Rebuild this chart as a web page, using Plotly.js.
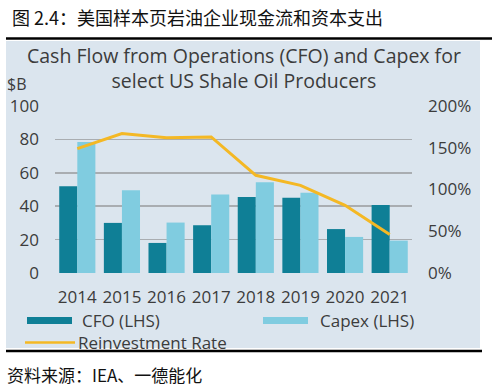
<!DOCTYPE html>
<html>
<head>
<meta charset="utf-8">
<script src="https://cdn.plot.ly/plotly-3.0.1.min.js"></script>
<style>html,body{margin:0;padding:0;background:#fff;}#chart{width:494px;height:386px;}</style>
</head>
<body>
<div id="chart"></div>
<script>
const years = ['2014','2015','2016','2017','2018','2019','2020','2021'];
const cfo = [52, 30, 18, 28.6, 45.5, 45, 26.3, 40.7];
const capex = [78.5, 49.5, 30.2, 47, 54.3, 48, 21.6, 19.4];
const reinvestmentRate = [149, 167, 162, 163, 117, 105, 81, 46];
const seriesNames = ['CFO (LHS)', 'Capex (LHS)', 'Reinvestment Rate'];
const headerText = '图 2.4：美国样本页岩油企业现金流和资本支出';
const chartTitle = 'Cash Flow from Operations (CFO) and Capex for<br>select US Shale Oil Producers';
const unitLabel = '$B';
const sourceText = '资料来源：IEA、一德能化';

const W = 494, H = 386;
const L = 55, R = 412, T = 106, B = 273;
const px = v => (v - L) / (R - L);
const py = v => (B - v) / (B - T);

const cCFO = '#0f7f96', cCapex = '#80cce0', cLine = '#f4b824';
const bg = '#dbe5ee';
const txt = '#3c3c3c';
const font = 'Open Sans, sans-serif';
const cjk = 'Noto Sans CJK SC, sans-serif';

const traces = [
  {type:'bar', x: years, y: cfo, name: seriesNames[0], marker:{color:cCFO}, showlegend:false},
  {type:'bar', x: years, y: capex, name: seriesNames[1], marker:{color:cCapex}, showlegend:false},
  {type:'scatter', mode:'lines', x: years, y: reinvestmentRate, name: seriesNames[2], yaxis:'y2',
   line:{color:cLine, width:3}, showlegend:false}
];

const shapes = [
  {type:'rect', xref:'paper', yref:'paper', x0:px(6), x1:px(480), y0:py(348), y1:py(41), fillcolor:bg, line:{width:0}, layer:'below'},
  {type:'line', xref:'paper', yref:'paper', x0:px(6), x1:px(492), y0:py(38.5), y1:py(38.5), line:{color:'#000', width:2.5}},
  {type:'line', xref:'paper', yref:'paper', x0:px(6), x1:px(482), y0:py(351), y1:py(351), line:{color:'#000', width:2.5}},
  // legend swatches
  {type:'rect', xref:'paper', yref:'paper', x0:px(27), x1:px(72), y0:py(324), y1:py(317), fillcolor:cCFO, line:{width:0}},
  {type:'rect', xref:'paper', yref:'paper', x0:px(263), x1:px(308), y0:py(324), y1:py(317), fillcolor:cCapex, line:{width:0}},
  {type:'line', xref:'paper', yref:'paper', x0:px(25), x1:px(75), y0:py(342.5), y1:py(342.5), line:{color:cLine, width:2.5}}
];

const ann = (text, x, y, size, xanchor, fam, color) => ({
  text, xref:'paper', yref:'paper', x:px(x), y:py(y), xanchor: xanchor||'left', yanchor:'middle',
  showarrow:false, borderpad:0, font:{family: fam||font, size, color: color||txt}
});

const annotations = [
  ann(headerText, 11, 17, 18, 'left', cjk, '#111'),
  ann(sourceText, 6, 374, 17, 'left', cjk, '#111'),
  Object.assign(ann(chartTitle, 244, 67.5, 19.5, 'center'), {align:'center'}),
  ann(unitLabel, 6, 84, 16, 'left'),
  ann(seriesNames[0], 81, 320.5, 17, 'left'),
  ann(seriesNames[1], 319, 320.5, 17, 'left'),
  ann(seriesNames[2], 77, 342.5, 17, 'left')
];

const layout = {
  width: W, height: H,
  margin: {l: L, r: W - R, t: T, b: H - B, pad: 0},
  paper_bgcolor: '#ffffff',
  plot_bgcolor: 'rgba(0,0,0,0)',
  barmode: 'group', bargap: 0.19, bargroupgap: 0,
  showlegend: false,
  xaxis: {type:'category', range:[-0.5, 7.5], showgrid:false, zeroline:false, showline:false, ticks:'',
          tickfont:{family:font, size:17, color:txt}, ticklabelstandoff: 12, fixedrange:true},
  yaxis: {range:[0,100], dtick:20, showgrid:true, gridcolor:'#a9adb1', gridwidth:1.5, zeroline:false, showline:false, ticks:'',
          tickfont:{family:font, size:17, color:txt}, ticklabelstandoff: 15},
  yaxis2: {range:[0,200], dtick:50, overlaying:'y', side:'right', showgrid:false, zeroline:false, showline:false, ticks:'',
           ticksuffix:'%', tickfont:{family:font, size:17, color:txt}, ticklabelstandoff: 15},
  shapes, annotations
};

Plotly.newPlot('chart', traces, layout, {staticPlot:true, displayModeBar:false});
</script>
</body>
</html>
